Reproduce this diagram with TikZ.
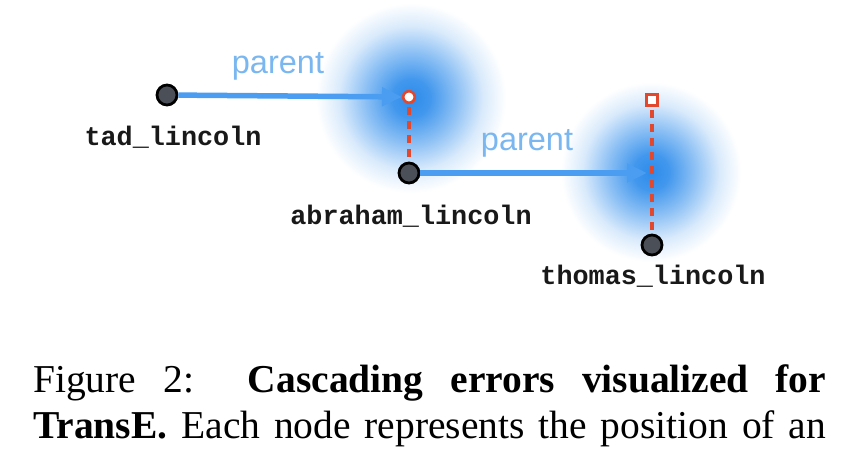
\documentclass[tikz,border=0pt]{standalone}
\usepackage{fontspec}
\setmainfont{Liberation Serif}
\newfontfamily\monofont{Liberation Mono}
\newfontfamily\labelfont{Liberation Sans}
\usetikzlibrary{arrows.meta}
\definecolor{glowblue}{RGB}{45,140,235}
\definecolor{arrowblue}{RGB}{74,157,240}
\definecolor{labelblue}{RGB}{122,183,240}
\definecolor{nodegray}{RGB}{75,79,88}
\definecolor{errred}{RGB}{226,72,45}
\pgfdeclareradialshading{glow}{\pgfpoint{0cm}{0cm}}{%
  color(0bp)=(glowblue); color(5bp)=(glowblue!90!white); color(12bp)=(glowblue!55!white);
  color(19bp)=(glowblue!18!white); color(25bp)=(white); color(50bp)=(white)}
\tikzset{
  entity/.style={circle, draw=black, line width=2.8pt, fill=nodegray, minimum size=20pt, inner sep=0pt},
  predcirc/.style={circle, draw=errred, line width=2.6pt, fill=white, minimum size=11.5pt, inner sep=0pt},
  predsq/.style={rectangle, draw=errred, line width=2.6pt, fill=white, minimum size=11pt, inner sep=0pt},
  ename/.style={font=\monofont\bfseries\fontsize{26.8}{30}\selectfont, text=black!90, inner sep=0pt},
  rel/.style={draw=arrowblue, line width=5.5pt, -{Triangle[length=20pt,width=18pt]}},
  rellabel/.style={font=\labelfont\fontsize{32.5}{36}\selectfont, text=labelblue, inner sep=0pt},
  err/.style={draw=errred, line width=3.5pt, dash pattern=on 8pt off 6pt, shorten <=3pt, shorten >=3pt},
  caption/.style={font=\fontsize{39.5}{46}\selectfont, inner sep=0pt, anchor=base west}
}
\begin{document}
\begin{tikzpicture}[x=1pt,y=-1pt]
\useasboundingbox (0,0) rectangle (850,458);
% glows
\shade[shading=glow] (411,98) circle (95);
\shade[shading=glow] (651,172) circle (90);
% nodes
\node[entity] (tad) at (167,95) {};
\node[predcirc] (pred1) at (409,97) {};
\node[entity] (abe) at (409,173) {};
\node[predsq] (pred2) at (652,100) {};
\node[entity] (tom) at (652,245) {};
\coordinate (hit2) at (652,173);
% error lines
\draw[err] (pred1) -- (abe);
\draw[err] (pred2) -- (tom);
% relations
\draw[rel] (tad) -- (pred1);
\draw[rel, shorten >=5pt] (abe) -- (hit2);
\node[rellabel] (lab1) at (278,66) {parent};
\node[rellabel] (lab2) at (527,143) {parent};
% names
\node[ename] (tadname) at (173,137) {tad\_lincoln};
\node[ename] (abename) at (411,216) {abraham\_lincoln};
\node[ename] (tomname) at (653,276) {thomas\_lincoln};
% caption
\node[caption] (cap1) at (33,392) {\makebox[793pt][s]{Figure 2:\ \ \textbf{Cascading errors visualized for}}};
\node[caption] (cap2) at (33,438) {\makebox[793pt][s]{\textbf{TransE.} Each node represents the position of an}};
\end{tikzpicture}
\end{document}
